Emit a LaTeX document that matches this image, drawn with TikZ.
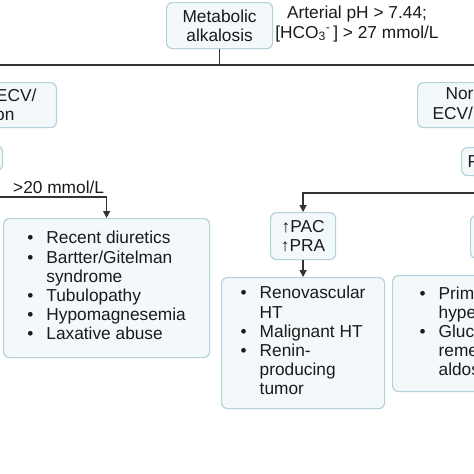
\documentclass[tikz,border=0pt]{standalone}
\usepackage{fontspec}
\setmainfont{Liberation Sans}
\usetikzlibrary{arrows.meta}
\definecolor{boxfill}{HTML}{F3F9FB}
\definecolor{boxline}{HTML}{B5D2DA}
\definecolor{connc}{HTML}{333333}
\definecolor{txt}{HTML}{1A1A1A}
\newcommand{\bul}{\textbullet}
\begin{document}
\begin{tikzpicture}[x=1pt,y=-1pt,
  box/.style={draw=boxline, fill=boxfill, line width=1.2pt, rounded corners=6pt,
    text=txt, font=\fontsize{17.3}{19.2}\selectfont, inner sep=0pt},
  conn/.style={draw=connc, line width=1.3pt},
  arr/.style={conn, -{Triangle[length=7pt,width=7pt]}},
  lbl/.style={text=txt, font=\fontsize{17.3}{19.2}\selectfont, inner sep=0pt}]
\useasboundingbox (0,0) rectangle (474,474);
\clip (0,0) rectangle (474,474);
% top
\node[box, minimum width=106pt, minimum height=46pt, align=center, anchor=north west] (ma) at (166,2) {Metabolic\\alkalosis};
\node[lbl, align=center] (crit) at (357,24) {Arterial pH > 7.44;\\{}[HCO\textsubscript{3}\textsuperscript{-}\,] > 27 mmol/L};
\coordinate (tl) at (-10,65);
\coordinate (tr) at (484,65);
\draw[conn] (tl) -- (tr);
\draw[conn] (ma.south) -- (ma.south |- tl);
% second level
\node[box, anchor=north east, minimum height=45pt, align=right, inner xsep=20pt] (lowecv) at (57,82) {Reduced ECV/\\contraction\rule{22pt}{0pt}};
\node[box, anchor=north west, minimum height=45pt, align=left, inner xsep=15pt] (normecv) at (417,82) {\rule{13pt}{0pt}Normal or high\\ECV/ hypertension};
% third level
\node[box, anchor=north east, minimum height=25pt, minimum width=60pt] (ucl) at (3,145) {};
\node[box, anchor=north west, minimum height=28pt, align=left, inner xsep=6pt] (pacpra) at (461,147) {PAC/PRA};
% left branch
\node[box, anchor=north west, minimum width=206pt, minimum height=139pt] (recent) at (3,218) {%
  \begin{tabular}{@{}l@{\hspace{13pt}}l@{}}
  \bul & Recent diuretics\\
  \bul & Bartter/Gitelman\\
       & syndrome\\
  \bul & Tubulopathy\\
  \bul & Hypomagnesemia\\
  \bul & Laxative abuse
  \end{tabular}};
\coordinate (lfree) at (-10,197);
\draw[arr] (lfree) -| (recent.north);
\node[lbl, anchor=south west] (gt20) at (13,194) {>20 mmol/L};
% right branch
\node[box, anchor=north west, minimum width=65pt, minimum height=47pt, align=center] (pac) at (270,212) {↑PAC\\↑PRA};
\node[box, anchor=north west, minimum width=60pt, minimum height=43pt] (lowpra) at (470,215) {};
\coordinate (rj) at (pacpra.south |- 0,193);
\draw[conn] (pacpra.south) -- (rj);
\draw[arr] (rj) -| (pac.north);
\draw[conn] (rj) -| (lowpra.north);
\node[box, anchor=north west, minimum width=163pt, minimum height=131pt] (reno) at (221,277) {%
  \begin{tabular}{@{}l@{\hspace{13pt}}l@{}}
  \bul & Renovascular\\
       & HT\\
  \bul & Malignant HT\\
  \bul & Renin-\\
       & producing\\
       & tumor
  \end{tabular}};
\draw[arr] (pac.south) -- (reno.north);
\node[box, anchor=north west, minimum width=160pt, minimum height=116pt, inner xsep=27pt, align=left] (prim) at (392,275) {%
  \begin{tabular}{@{}l@{\hspace{13pt}}l@{}}
  \bul & Primary\\
       & hyperaldosteronism\\
  \bul & Glucocorticoid-\\
       & remediable\\
       & aldosteronism
  \end{tabular}};
\end{tikzpicture}
\end{document}
